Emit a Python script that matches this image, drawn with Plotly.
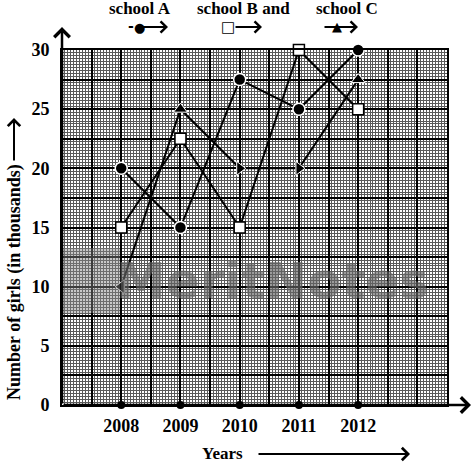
import plotly.graph_objects as go

years = [2008, 2009, 2010, 2011, 2012]
school_a = [20, 15, 27.5, 25, 30]
school_b = [15, 22.5, 15, 30, 25]
school_c = [10, 25, 20, 20, 27.5]
c_symbols = ["triangle-left", "triangle-up", "triangle-right", "triangle-right", "triangle-up"]
y_labels = [0, 5, 10, 15, 20, 25, 30]
legend_names = ["school A", "school B and", "school C"]

W, H = 474, 463
L, R, T, B = 62, 27, 50, 58
PW, PH = W - L - R, H - T - B

def px(xp):
    return (xp - L) / PW

def py(yp):
    return (H - B - yp) / PH

FONT = "Liberation Serif"

fig = go.Figure()

line = dict(color="black", width=2)
fig.add_trace(go.Scatter(x=years, y=school_b, mode="lines+markers", line=line,
                         marker=dict(symbol="square", size=11, color="white",
                                     line=dict(color="black", width=1.5)),
                         cliponaxis=False, showlegend=False))
fig.add_trace(go.Scatter(x=years, y=school_c, mode="lines+markers", line=line,
                         marker=dict(symbol=c_symbols, size=12, color="black",
                                     line=dict(color="white", width=1)),
                         cliponaxis=False, showlegend=False))
fig.add_trace(go.Scatter(x=years, y=school_a, mode="lines+markers", line=line,
                         marker=dict(symbol="circle", size=12, color="black",
                                     line=dict(color="white", width=1.5)),
                         cliponaxis=False, showlegend=False))
# year dots on the x axis
fig.add_trace(go.Scatter(x=years, y=[0] * len(years), mode="markers",
                         marker=dict(symbol="circle", size=8, color="black"),
                         cliponaxis=False, showlegend=False))

x0, x1 = 2007, 2013.5
xt = [x0 + 0.5 * i for i in range(int((x1 - x0) / 0.5) + 1)]
xtext = [str(int(v)) if v in years else "" for v in xt]
yt = [2.5 * i for i in range(13)]
ytext = [str(int(v)) if v in y_labels else "" for v in yt]

fig.update_xaxes(range=[x0, x1], tickmode="array", tickvals=xt, ticktext=xtext,
                 showgrid=True, gridcolor="black", gridwidth=2,
                 minor=dict(tick0=x0, dtick=0.05, showgrid=True, gridcolor="#5a5a5a", gridwidth=1),
                 showline=True, mirror=True, linecolor="black", linewidth=2,
                 ticks="outside", ticklen=3, tickcolor="rgba(0,0,0,0)",
                 tickfont=dict(family=FONT, size=18, color="black", weight="bold"),
                 zeroline=False, fixedrange=True, automargin=False)
fig.update_yaxes(range=[0, 30], tickmode="array", tickvals=yt, ticktext=ytext,
                 showgrid=True, gridcolor="black", gridwidth=2,
                 minor=dict(tick0=0, dtick=0.25, showgrid=True, gridcolor="#5a5a5a", gridwidth=1),
                 showline=True, mirror=True, linecolor="black", linewidth=2,
                 ticks="outside", ticklen=7, tickcolor="rgba(0,0,0,0)",
                 tickfont=dict(family=FONT, size=18, color="black", weight="bold"),
                 zeroline=False, fixedrange=True, automargin=False)

ann = []

def arrow(xh, yh, xt_, yt_, w=2):
    ann.append(dict(xref="paper", yref="paper", x=px(xh), y=py(yh), ax=xt_ - xh, ay=yt_ - yh,
                    xanchor="center", yanchor="middle",
                    showarrow=True, arrowhead=4, arrowsize=1.2, arrowwidth=w, arrowcolor="black", text=""))

def text(xc, yc, s, size=17, family=FONT, angle=0, color="black", bold=True, opacity=1, **kw):
    ann.append(dict(xref="paper", yref="paper", x=px(xc), y=py(yc), text=s, showarrow=False,
                    xanchor="center", yanchor="middle", textangle=angle, opacity=opacity,
                    font=dict(family=family, size=size, color=color,
                              weight="bold" if bold else "normal"), **kw))

# axes with arrows
arrow(62, 27, 62, 405, 2.5)
arrow(471, 405, 62, 405, 2.5)
# axis titles
text(14, 282, "Number of girls (in thousands)", size=18, angle=-90)
arrow(14, 118, 14, 162)
text(222, 453, "Years")
arrow(410, 454, 257, 454)
# legend texts
for name, cx in zip(legend_names, [140, 243, 347]):
    text(cx, 9, name)
# legend arrows
for xs, xe in [(139, 168), (229, 262), (323, 358)]:
    ann.append(dict(xref="paper", yref="paper", x=px(xe), y=py(27), ax=xs - xe, ay=0,
                    showarrow=True, arrowhead=4, arrowsize=1.1, arrowwidth=2, arrowcolor="black", text=""))
# legend markers
text(131, 26, "-", size=14, family="DejaVu Sans")
text(139, 27, "●", size=13, family="DejaVu Sans", bold=False)
text(228, 27, "□", size=15, family="DejaVu Sans", bold=False, bgcolor="white", borderpad=0)
text(337, 26, "▲", size=13, family="DejaVu Sans", bold=False)
# watermark
text(272, 281, "MeritNotes", size=50, family="DejaVu Sans", color="#666666", opacity=0.65)

shapes = [dict(type="rect", xref="paper", yref="paper", x0=px(63), x1=px(120), y0=py(313), y1=py(248),
               fillcolor="#888888", opacity=0.45, line=dict(width=0), layer="above")]

fig.update_layout(width=W, height=H, margin=dict(l=L, r=R, t=T, b=B),
                  paper_bgcolor="white", plot_bgcolor="white",
                  annotations=ann, shapes=shapes, showlegend=False)

fig.write_html("out.html", config={"displayModeBar": False},
               post_script="document.body.style.margin='0';")
